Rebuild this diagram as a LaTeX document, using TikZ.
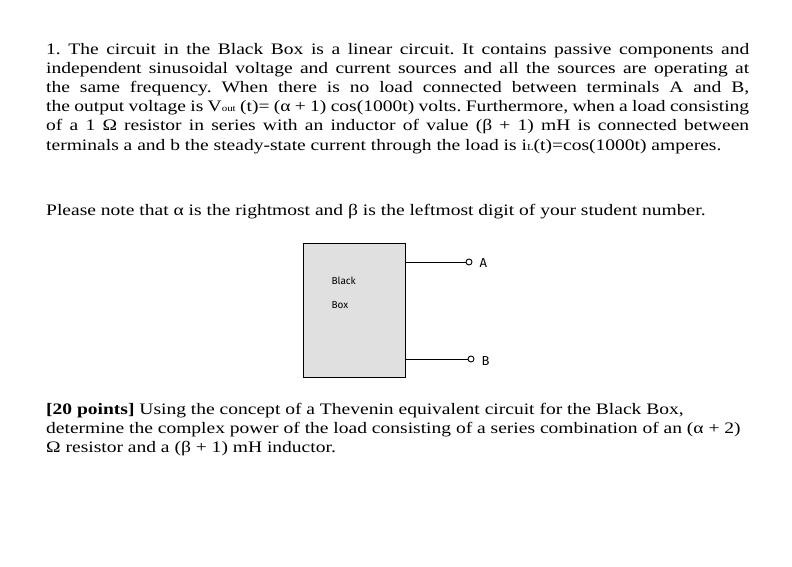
\documentclass[tikz,border=0pt]{standalone}
\usepackage{fontspec}
\setmainfont{Liberation Serif}[FakeStretch=1.22]
\newfontfamily\hand{Fira Sans}
\frenchspacing
\begin{document}
\begin{tikzpicture}[x=1pt,y=-1pt,
 ln/.style={anchor=base west,inner sep=0pt,font=\fontsize{16}{19}\selectfont},
 wire/.style={line width=0.9pt}]
\useasboundingbox (0,0) rectangle (792,567);
\def\W{703pt}
\node[ln] (l1) at (46,55) {\makebox[\W][s]{1. The circuit in the Black Box is a linear circuit. It contains passive components and}};
\node[ln] (l2) at (46,74) {\makebox[\W][s]{independent sinusoidal voltage and current sources and all the sources are operating at}};
\node[ln] (l3) at (46,93) {\makebox[\W][s]{the same frequency. When there is no load connected between terminals A and B,}};
\node[ln] (l4) at (46,112) {\makebox[\W][s]{the output voltage is V{\fontsize{9}{9}\selectfont out} (t)= (α + 1) cos(1000t) volts. Furthermore, when a load consisting}};
\node[ln] (l5) at (46,131) {\makebox[\W][s]{of a 1 Ω resistor in series with an inductor of value (β + 1) mH is connected between}};
\node[ln] (l6) at (46,150) {terminals a and b the steady-state current through the load is i{\fontsize{9}{9}\selectfont L}(t)=cos(1000t) amperes.};
\node[ln] (l7) at (46,215) {Please note that α is the rightmost and β is the leftmost digit of your student number.};
\node[ln] (l8) at (46,414) {\textbf{[20 points]} Using the concept of a Thevenin equivalent circuit for the Black Box,};
\node[ln] (l9) at (46,433) {determine the complex power of the load consisting of a series combination of an (α + 2)};
\node[ln] (l10) at (46,452) {Ω resistor and a (β + 1) mH inductor.};
% black box
\node[draw,wire,fill=black!12,minimum width=102pt,minimum height=134pt,inner sep=0pt] (bb) at (354,310) {};
\node[anchor=west,font=\hand\fontsize{10}{10}\selectfont] (t1) at (328,281) {Black};
\node[anchor=west,font=\hand\fontsize{10}{10}\selectfont] (t2) at (328,305) {Box};
\node[draw,circle,wire,minimum size=6pt,inner sep=0pt] (ta) at (469,262) {};
\node[draw,circle,wire,minimum size=6pt,inner sep=0pt] (tb) at (471,359) {};
\draw[wire] (bb.east |- ta) -- (ta.west);
\draw[wire] (bb.east |- tb) -- (tb.west);
\node[anchor=west,font=\hand\fontsize{13}{13}\selectfont] (la) at (476,263) {A};
\node[anchor=west,font=\hand\fontsize{13}{13}\selectfont] (lb) at (478,361) {B};
\end{tikzpicture}
\end{document}
